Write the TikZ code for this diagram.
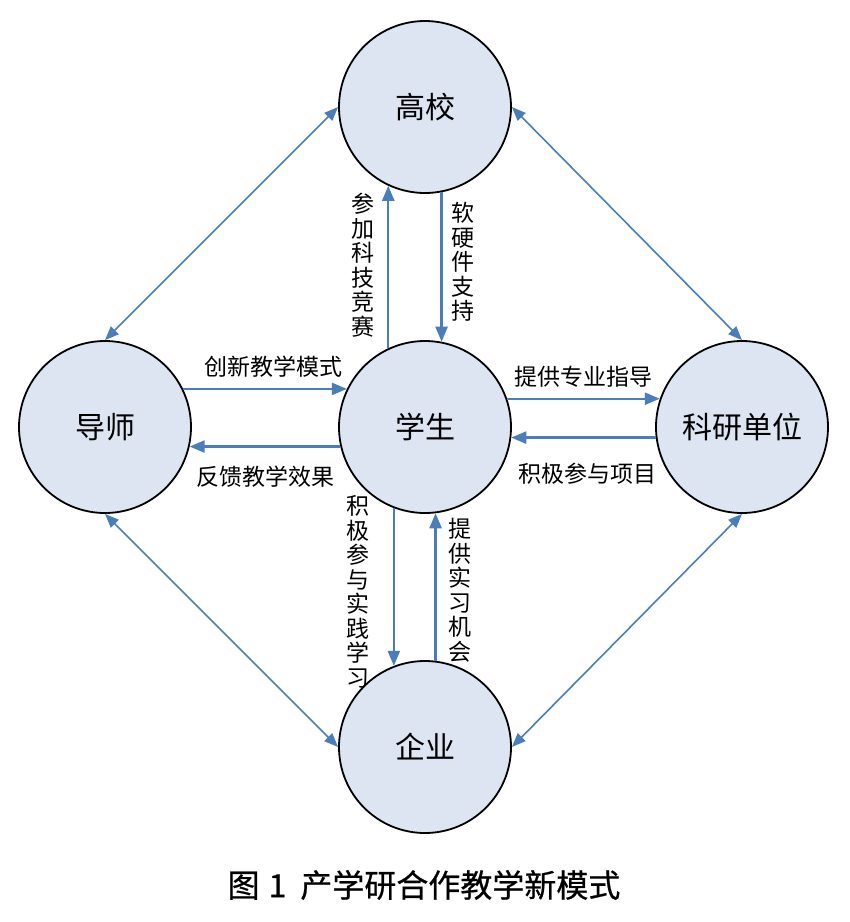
\documentclass[tikz,border=0pt]{standalone}
\usepackage{fontspec}
\newfontfamily\cjk{Noto Sans CJK SC}
\newfontfamily\cjkcap[FakeBold=0.6]{Noto Sans CJK SC}
\usetikzlibrary{arrows.meta}
\definecolor{arrblue}{RGB}{74,126,187}
\definecolor{circfill}{RGB}{221,228,242}
\begin{document}
\begin{tikzpicture}[x=1pt,y=-1pt,
  ent/.style={circle, draw=black, line width=1.8pt, fill=circfill, minimum size=172pt, inner sep=0pt, font=\cjk\fontsize{30}{30}\selectfont},
  arr/.style={draw=arrblue, line width=2.3pt, -{Triangle[length=15pt,width=12pt]}},
  darr/.style={draw=arrblue, line width=1.6pt, {Triangle[length=14pt,width=11pt]}-{Triangle[length=14pt,width=11pt]}},
  lab/.style={font=\cjk\fontsize{23}{24.5}\selectfont, inner sep=0pt},
  vlab/.style={lab, align=center}]
\fill[white] (0,0) rectangle (850,922);
\useasboundingbox (0,0) rectangle (850,922);

\node[ent] (gx) at (425,107) {高校};
\node[ent] (ds) at (105,427) {导师};
\node[ent] (xs) at (425,427) {学生};
\node[ent] (ky) at (742,427) {科研单位};
\node[ent] (qy) at (425,747) {企业};

% diagonal double arrows
\draw[darr] (gx.west) -- (ds.north);
\draw[darr] (gx.east) -- (ky.north);
\draw[darr] (ds.south) -- (qy.west);
\draw[darr] (ky.south) -- (qy.east);

% 学生 <-> 高校
\draw[arr] (xs.115) -- (gx.-115);
\draw[arr] (gx.-79) -- (xs.79);
% 导师 <-> 学生
\draw[arr] (ds.26) -- (xs.154);
\draw[arr] (xs.193) -- (ds.-13);
% 学生 <-> 科研单位
\draw[arr] (xs.19) -- (ky.161);
\draw[arr] (ky.187) -- (xs.-7);
% 学生 <-> 企业
\draw[arr] (xs.-111.5) -- (qy.111.5);
\draw[arr] (qy.83) -- (xs.-83);

% labels
\node[vlab] (l1) at (363,265) {参\\加\\科\\技\\竞\\赛};
\node[vlab] (l2) at (463,262) {软\\硬\\件\\支\\持};
\node[lab] (l3) at (273,367) {创新教学模式};
\node[lab] (l4) at (265,477) {反馈教学效果};
\node[lab] (l5) at (583,377) {提供专业指导};
\node[lab] (l6) at (587,474) {积极参与项目};
\node[vlab] (l7) at (358,592) {积\\极\\参\\与\\实\\践\\学\\习};
\node[vlab] (l8) at (460,590) {提\\供\\实\\习\\机\\会};

% caption
\node[font=\cjkcap\fontsize{32}{32}\selectfont, inner sep=0pt] (cap) at (424,885) {图\hspace{9pt}1\hspace{14pt}产学研合作教学新模式};
\end{tikzpicture}
\end{document}
